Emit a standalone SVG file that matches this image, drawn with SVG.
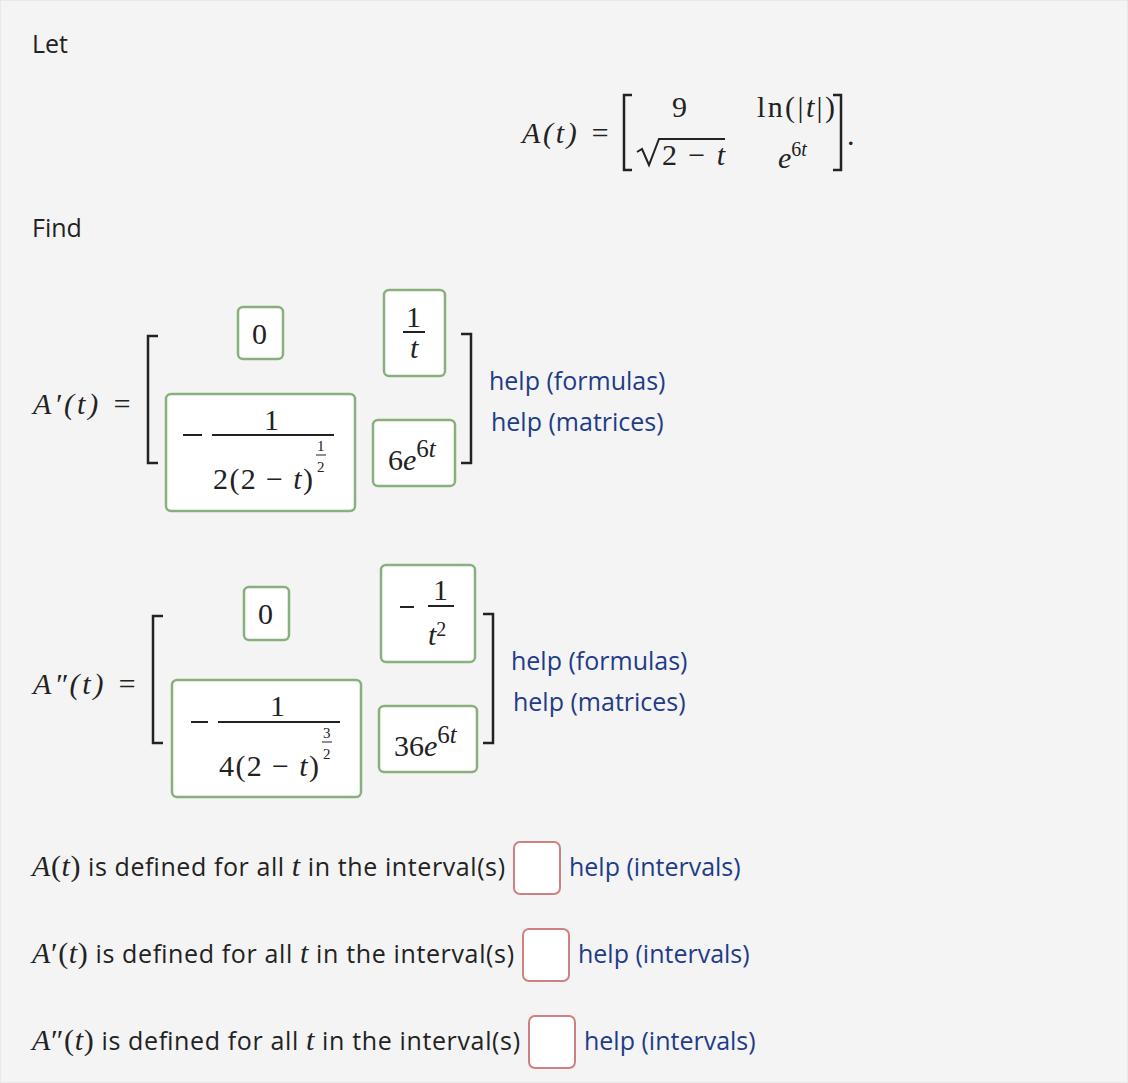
<svg xmlns="http://www.w3.org/2000/svg" width="1128" height="1083" viewBox="0 0 1128 1083">
<defs>
<style>
.t{font-family:"Open Sans","Liberation Sans",sans-serif;font-size:25px;fill:#222}
.m{font-family:"Liberation Serif",serif;font-size:30px;fill:#222}
.mi{font-family:"Liberation Serif",serif;font-size:30px;font-style:italic;fill:#222}
.l{font-family:"Open Sans","Liberation Sans",sans-serif;font-size:25px;fill:#1f3c88}
.g{fill:#fff;stroke:#88b07c;stroke-width:2.5}
.r{fill:#fff;stroke:#d08080;stroke-width:2}
.b{fill:none;stroke:#222;stroke-width:2.5}
.f{stroke:#222;stroke-width:2}
.s{font-family:"Liberation Serif",serif;font-size:15px;fill:#222}
</style>
</defs>
<rect x="0" y="0" width="1128" height="1083" fill="#f4f4f4" stroke="#ddd"/>
<text class="t" x="32" y="53">Let</text>
<text class="mi" x="522" y="143" textLength="88">A<tspan class="m">(</tspan>t<tspan class="m">) =</tspan></text>
<path class="b" d="M632,95 h-8 v75 h8 M833,95 h8 v75 h-8"/>
<text class="m" x="672" y="117">9</text>
<path class="f" fill="none" d="M637,152 l5,-3 l7,16 l10,-26 h66"/>
<text class="m" x="662" y="165" textLength="63">2 − <tspan font-style="italic">t</tspan></text>
<text class="m" x="757" y="117" textLength="78">ln(|<tspan font-style="italic">t</tspan>|)</text>
<text class="mi" x="778" y="168">e<tspan font-size="20" dy="-12" font-style="normal">6</tspan><tspan font-size="20">t</tspan></text>
<text class="m" x="847" y="145">.</text>
<text class="t" x="32" y="237">Find</text>

<g id="Aprime">
<text class="mi" x="33" y="414" textLength="99">A<tspan class="m">′(</tspan>t<tspan class="m">) =</tspan></text>
<path class="b" d="M158,336 h-10 v127 h10 M461,334 h10 v129 h-10"/>
<rect class="g" x="238" y="307" width="45" height="52" rx="5"/>
<text class="m" x="252" y="344">0</text>
<rect class="g" x="384" y="290" width="61" height="86" rx="5"/>
<text class="m" x="406" y="327" font-size="26">1</text><line class="f" x1="403" y1="332" x2="425" y2="332"/>
<text class="mi" x="410" y="358" font-size="24">t</text>
<rect class="g" x="166" y="394" width="189" height="117" rx="5"/>
<line class="f" x1="183" y1="435" x2="202" y2="435"/>
<text class="m" x="264" y="430" font-size="27">1</text><line class="f" x1="212" y1="435" x2="334" y2="435"/>
<text class="m" x="213" y="489" font-size="27" textLength="100">2(2 − <tspan font-style="italic">t</tspan>)</text>
<text class="s" x="317" y="451">1</text><line x1="316" y1="455" x2="326" y2="455" stroke="#222"/><text class="s" x="317" y="472">2</text>
<rect class="g" x="373" y="420" width="82" height="66" rx="5"/>
<text class="mi" x="388" y="470" font-size="28"><tspan font-style="normal">6</tspan>e<tspan font-size="25" dy="-13" font-style="normal">6</tspan><tspan font-size="25">t</tspan></text>
<text class="l" x="489" y="390">help (formulas)</text>
<text class="l" x="491" y="431">help (matrices)</text>
</g>

<g id="Asecond">
<text class="mi" x="33" y="694" textLength="104">A<tspan class="m">″(</tspan>t<tspan class="m">) =</tspan></text>
<path class="b" d="M163,616 h-10 v127 h10 M483,614 h10 v129 h-10"/>
<rect class="g" x="244" y="587" width="45" height="53" rx="5"/>
<text class="m" x="258" y="624">0</text>
<rect class="g" x="381" y="565" width="94" height="97" rx="5"/>
<line class="f" x1="400" y1="607" x2="414" y2="607"/>
<text class="m" x="433" y="600" font-size="26">1</text><line class="f" x1="428" y1="606" x2="454" y2="606"/>
<text class="mi" x="428" y="645" font-size="24">t<tspan font-style="normal" font-size="20" dy="-9">2</tspan></text>
<rect class="g" x="172" y="680" width="189" height="117" rx="5"/>
<line class="f" x1="191" y1="722" x2="208" y2="722"/>
<text class="m" x="270" y="716" font-size="27">1</text><line class="f" x1="218" y1="722" x2="340" y2="722"/>
<text class="m" x="219" y="776" font-size="27" textLength="100">4(2 − <tspan font-style="italic">t</tspan>)</text>
<text class="s" x="323" y="738">3</text><line x1="322" y1="742" x2="332" y2="742" stroke="#222"/><text class="s" x="323" y="759">2</text>
<rect class="g" x="379" y="706" width="98" height="66" rx="5"/>
<text class="mi" x="394" y="756" font-size="28"><tspan font-style="normal">36</tspan>e<tspan font-size="25" dy="-13" font-style="normal">6</tspan><tspan font-size="25">t</tspan></text>
<text class="l" x="511" y="670">help (formulas)</text>
<text class="l" x="513" y="711">help (matrices)</text>
</g>

<g id="intervals">
<text class="t" x="32" y="876" textLength="473"><tspan class="mi">A</tspan><tspan class="m">(</tspan><tspan class="mi">t</tspan><tspan class="m">)</tspan> is defined for all <tspan class="mi">t</tspan> in the interval(s)</text>
<rect class="r" x="514" y="842" width="46" height="52" rx="6"/>
<text class="l" x="569" y="876">help (intervals)</text>
<text class="t" x="32" y="963" textLength="482"><tspan class="mi">A</tspan><tspan class="m">′(</tspan><tspan class="mi">t</tspan><tspan class="m">)</tspan> is defined for all <tspan class="mi">t</tspan> in the interval(s)</text>
<rect class="r" x="523" y="929" width="46" height="52" rx="6"/>
<text class="l" x="578" y="963">help (intervals)</text>
<text class="t" x="32" y="1050" textLength="488"><tspan class="mi">A</tspan><tspan class="m">″(</tspan><tspan class="mi">t</tspan><tspan class="m">)</tspan> is defined for all <tspan class="mi">t</tspan> in the interval(s)</text>
<rect class="r" x="529" y="1016" width="46" height="52" rx="6"/>
<text class="l" x="584" y="1050">help (intervals)</text>
</g>
</svg>
